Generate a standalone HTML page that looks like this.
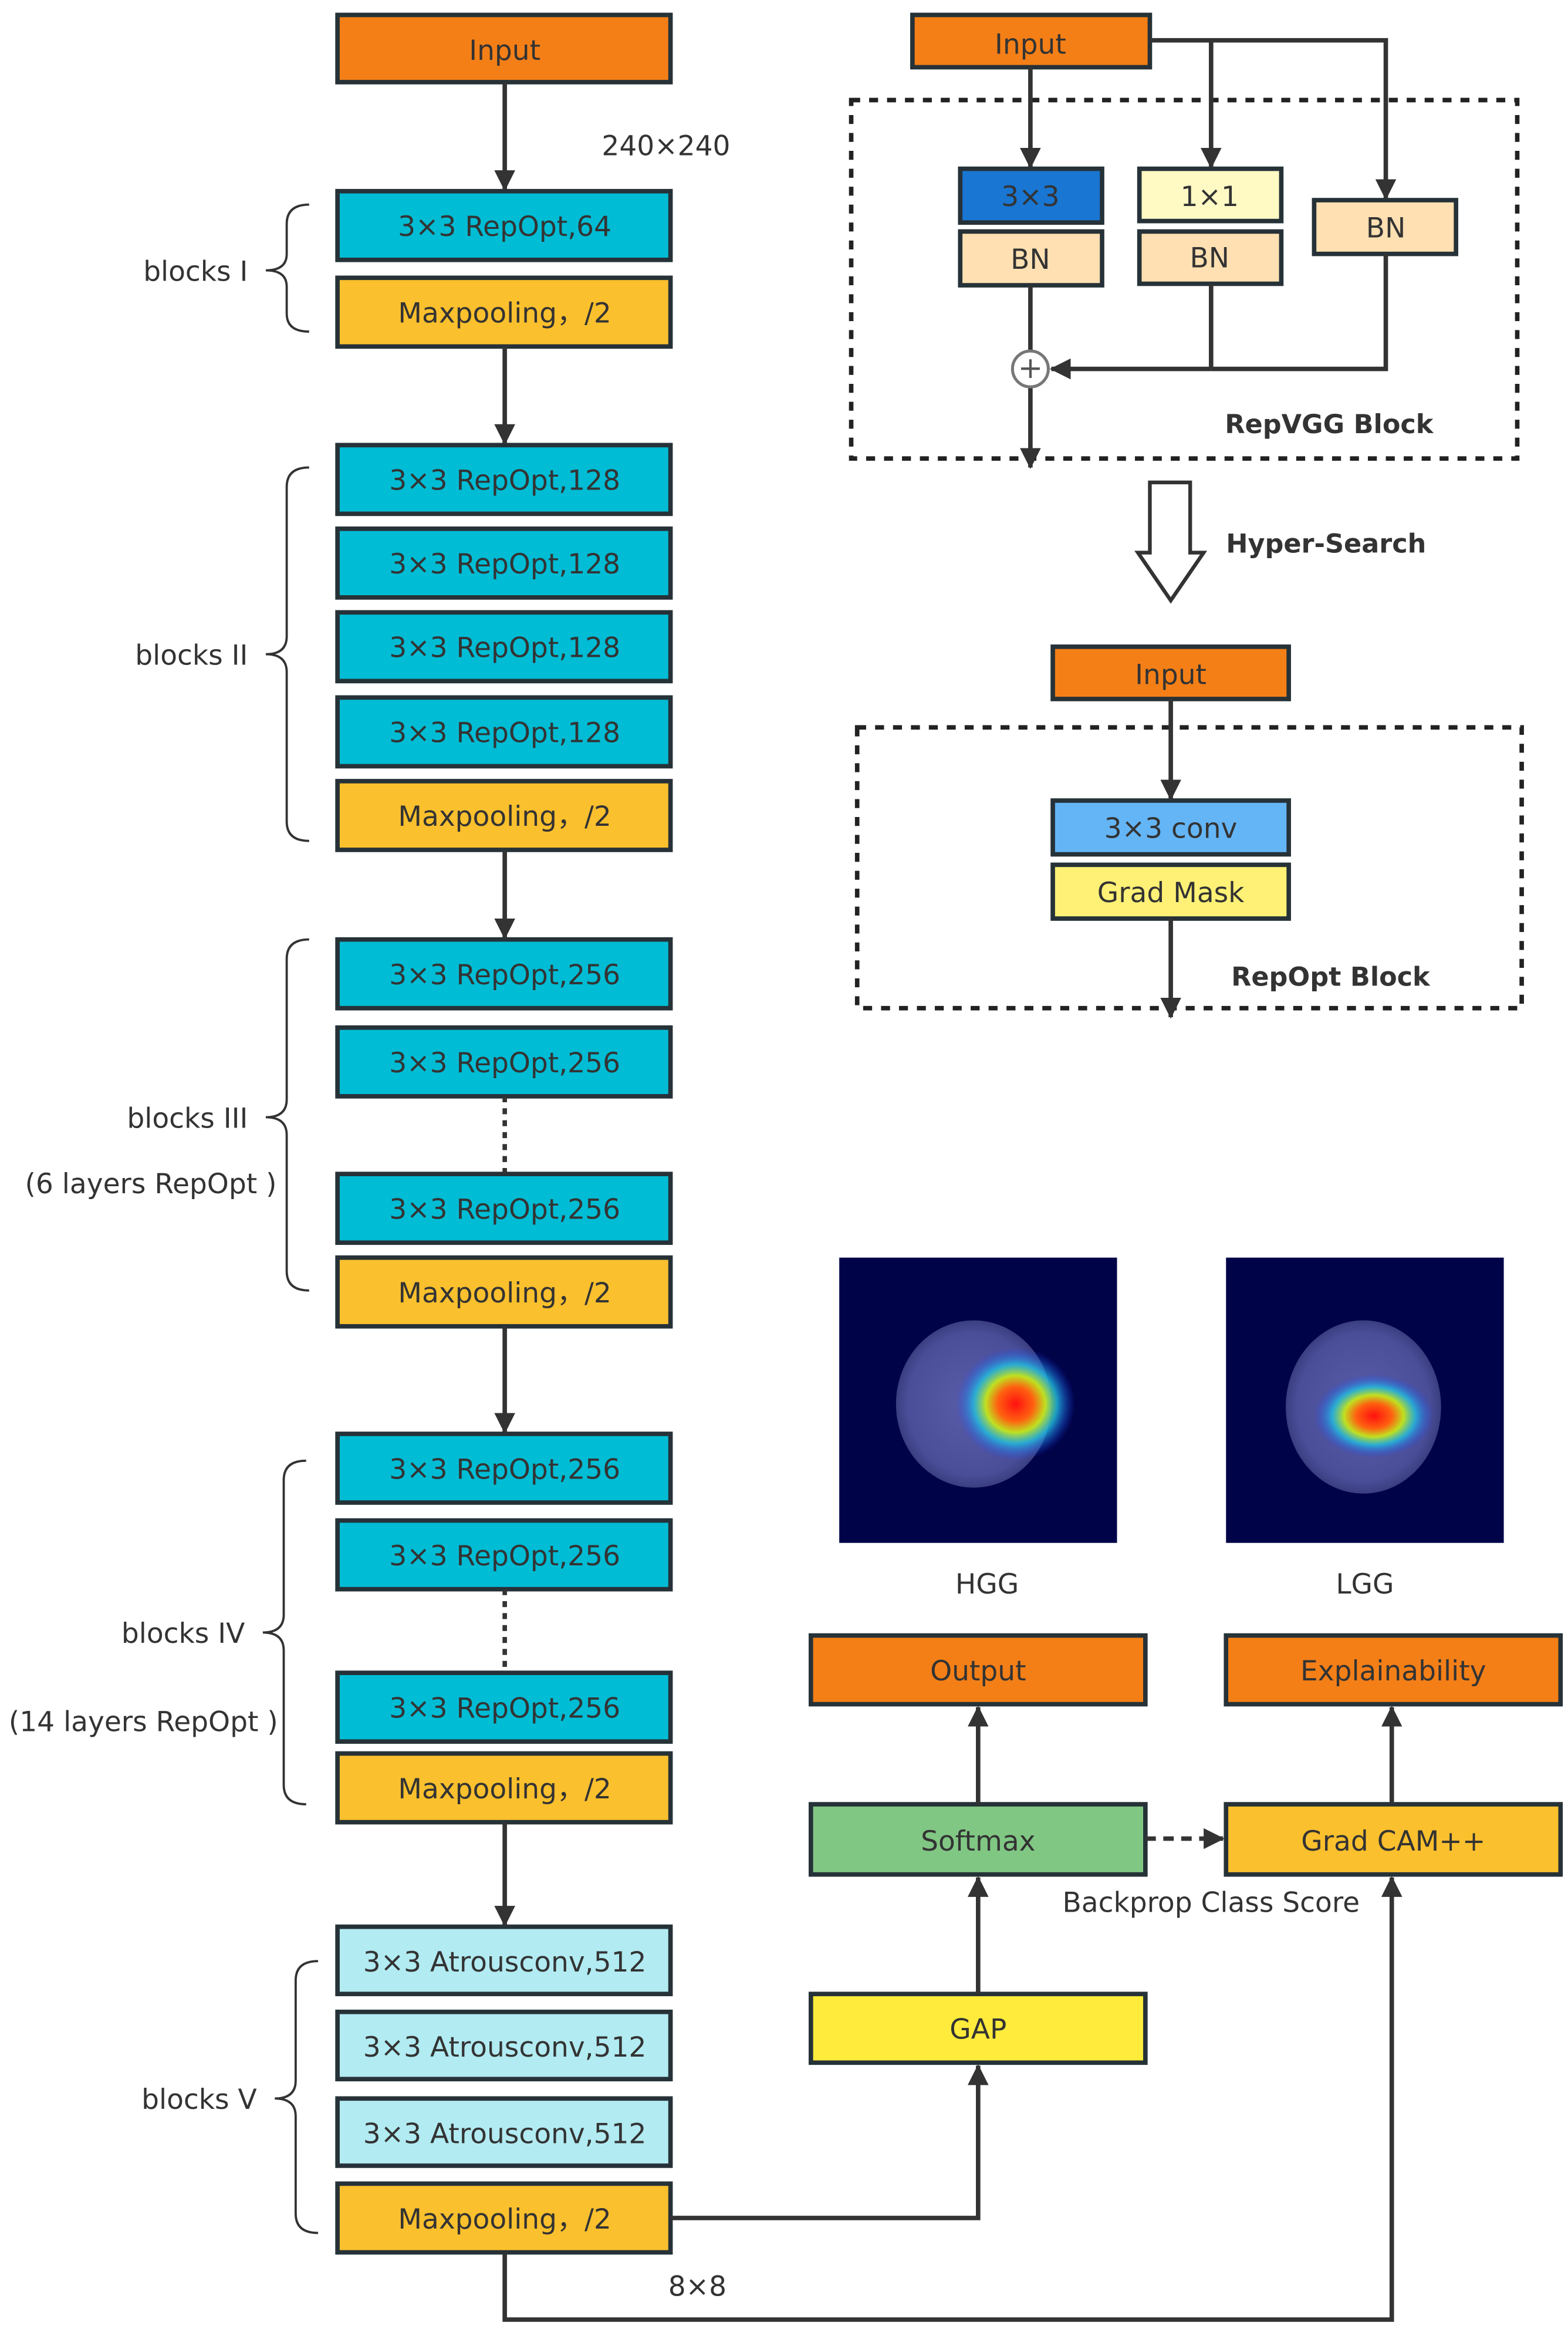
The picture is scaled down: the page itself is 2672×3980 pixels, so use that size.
<!DOCTYPE html>
<html><head><meta charset="utf-8"><style>
html,body{margin:0;padding:0;background:#fff;}
svg{display:block;}
text{font-family:"DejaVu Sans","Liberation Sans",sans-serif;fill:#333;}
</style></head><body>
<svg width="2672" height="3980" viewBox="0 0 1050 1564" preserveAspectRatio="none" xmlns="http://www.w3.org/2000/svg">
<defs>
<marker id="ah" markerWidth="14" markerHeight="14" refX="13" refY="7" orient="auto" markerUnits="userSpaceOnUse"><path d="M0,0 L14,7 L0,14 z" fill="#333"/></marker>
<radialGradient id="hm1" cx="0.5" cy="0.5" r="0.5"><stop offset="0" stop-color="#ff1010"/><stop offset="0.3" stop-color="#ff6010"/><stop offset="0.5" stop-color="#c0e020"/><stop offset="0.7" stop-color="#20c0e0" stop-opacity="0.8"/><stop offset="1" stop-color="#2040ff" stop-opacity="0"/></radialGradient>
<radialGradient id="brain" cx="0.5" cy="0.5" r="0.5"><stop offset="0" stop-color="#5a5ea8"/><stop offset="0.85" stop-color="#4a4e98"/><stop offset="1" stop-color="#3a3e80"/></radialGradient>
</defs>
<g stroke="#263238" stroke-width="3">
<rect x="226" y="10" width="223" height="45" fill="#f47f17"/>
<rect x="226" y="128" width="223" height="46" fill="#00bcd4"/>
<rect x="226" y="186" width="223" height="46" fill="#fbc02d"/>
<rect x="226" y="298" width="223" height="46" fill="#00bcd4"/>
<rect x="226" y="354" width="223" height="46" fill="#00bcd4"/>
<rect x="226" y="410" width="223" height="46" fill="#00bcd4"/>
<rect x="226" y="467" width="223" height="46" fill="#00bcd4"/>
<rect x="226" y="523" width="223" height="46" fill="#fbc02d"/>
<rect x="226" y="629" width="223" height="46" fill="#00bcd4"/>
<rect x="226" y="688" width="223" height="46" fill="#00bcd4"/>
<rect x="226" y="786" width="223" height="46" fill="#00bcd4"/>
<rect x="226" y="842" width="223" height="46" fill="#fbc02d"/>
<rect x="226" y="960" width="223" height="46" fill="#00bcd4"/>
<rect x="226" y="1018" width="223" height="46" fill="#00bcd4"/>
<rect x="226" y="1120" width="223" height="46" fill="#00bcd4"/>
<rect x="226" y="1174" width="223" height="46" fill="#fbc02d"/>
<rect x="226" y="1290" width="223" height="45" fill="#b2ebf2"/>
<rect x="226" y="1347" width="223" height="45" fill="#b2ebf2"/>
<rect x="226" y="1405" width="223" height="45" fill="#b2ebf2"/>
<rect x="226" y="1462" width="223" height="46" fill="#fbc02d"/>
<rect x="543" y="1095" width="224" height="46" fill="#f47f17"/>
<rect x="543" y="1208" width="224" height="47" fill="#81c784"/>
<rect x="543" y="1335" width="224" height="46" fill="#ffeb3b"/>
<rect x="821" y="1095" width="224" height="46" fill="#f47f17"/>
<rect x="821" y="1208" width="224" height="47" fill="#fbc02d"/>
<rect x="611" y="10" width="159" height="35" fill="#f47f17"/>
<rect x="643" y="113" width="95" height="36" fill="#1976d2"/>
<rect x="643" y="155" width="95" height="36" fill="#ffe0b2"/>
<rect x="763" y="113" width="95" height="35" fill="#fff9c4"/>
<rect x="763" y="155" width="95" height="35" fill="#ffe0b2"/>
<rect x="880" y="134" width="95" height="36" fill="#ffe0b2"/>
<rect x="705" y="433" width="158" height="35" fill="#f47f17"/>
<rect x="705" y="536" width="158" height="36" fill="#64b5f6"/>
<rect x="705" y="579" width="158" height="36" fill="#fff176"/>
</g>
<rect x="570" y="67" width="446" height="240" fill="none" stroke="#222" stroke-width="3" stroke-dasharray="6,6"/>
<rect x="574" y="487" width="445" height="188" fill="none" stroke="#222" stroke-width="3" stroke-dasharray="6,6"/>
<g stroke="#333" stroke-width="3" fill="none">
<line x1="338" y1="55" x2="338" y2="127" marker-end="url(#ah)"/>
<line x1="338" y1="232" x2="338" y2="297" marker-end="url(#ah)"/>
<line x1="338" y1="569" x2="338" y2="628" marker-end="url(#ah)"/>
<line x1="338" y1="888" x2="338" y2="959" marker-end="url(#ah)"/>
<line x1="338" y1="1220" x2="338" y2="1289" marker-end="url(#ah)"/>
<line x1="338" y1="734" x2="338" y2="786" stroke-dasharray="4,4"/>
<line x1="338" y1="1064" x2="338" y2="1120" stroke-dasharray="4,4"/>
<polyline points="449,1485 655,1485 655,1383" marker-end="url(#ah)"/>
<line x1="655" y1="1335" x2="655" y2="1257" marker-end="url(#ah)"/>
<line x1="655" y1="1208" x2="655" y2="1143" marker-end="url(#ah)"/>
<polyline points="338,1508 338,1553 932,1553 932,1257" marker-end="url(#ah)"/>
<line x1="932" y1="1208" x2="932" y2="1143" marker-end="url(#ah)"/>
<line x1="767" y1="1231" x2="819" y2="1231" stroke-dasharray="7,5" marker-end="url(#ah)"/>
<line x1="690" y1="45" x2="690" y2="112" marker-end="url(#ah)"/>
<polyline points="770,27 928,27 928,133" marker-end="url(#ah)"/>
<line x1="811" y1="27" x2="811" y2="112" marker-end="url(#ah)"/>
<line x1="690" y1="191" x2="690" y2="235"/>
<polyline points="928,170 928,247 811,247"/>
<line x1="811" y1="190" x2="811" y2="247"/>
<line x1="811" y1="247" x2="704" y2="247" marker-end="url(#ah)"/>
<line x1="690" y1="259" x2="690" y2="313" marker-end="url(#ah)"/>
<line x1="784" y1="468" x2="784" y2="535" marker-end="url(#ah)"/>
<line x1="784" y1="615" x2="784" y2="681" marker-end="url(#ah)"/>
<path d="M207,137 Q192,137 192,150 L192,170 Q192,181 178,181 Q192,181 192,192 L192,210 Q192,222 207,222" stroke-width="1.5"/>
<path d="M207,313 Q192,313 192,326 L192,426 Q192,438 178,438 Q192,438 192,450 L192,550 Q192,563 207,563" stroke-width="1.5"/>
<path d="M207,629 Q192,629 192,642 L192,736 Q192,748 178,748 Q192,748 192,760 L192,851 Q192,864 207,864" stroke-width="1.5"/>
<path d="M205,978 Q190,978 190,991 L190,1081 Q190,1093 176,1093 Q190,1093 190,1105 L190,1195 Q190,1208 205,1208" stroke-width="1.5"/>
<path d="M213,1313 Q198,1313 198,1326 L198,1393 Q198,1405 184,1405 Q198,1405 198,1417 L198,1482 Q198,1495 213,1495" stroke-width="1.5"/>
</g>
<circle cx="690" cy="247" r="12" fill="#fff" stroke="#777" stroke-width="2"/>
<text x="690" y="253" font-size="20" text-anchor="middle" style="fill:#555">+</text>
<path d="M770,323 L797,323 L797,370 L806,370 L784,402 L762,370 L770,370 Z" fill="#fff" stroke="#333" stroke-width="2.5"/>
<rect x="562" y="842" width="186" height="191" fill="#000348"/>
<ellipse cx="652" cy="940" rx="52" ry="56" fill="url(#brain)"/>
<ellipse cx="680" cy="940" rx="40" ry="38" fill="url(#hm1)"/>
<rect x="821" y="842" width="186" height="191" fill="#000348"/>
<ellipse cx="913" cy="942" rx="52" ry="58" fill="url(#brain)"/>
<ellipse cx="920" cy="948" rx="40" ry="28" fill="url(#hm1)"/>
<g font-size="18.5" text-anchor="middle">
<text x="338" y="40">Input</text>
<text x="338" y="158">3×3 RepOpt,64</text>
<text x="338" y="216">Maxpooling，/2</text>
<text x="338" y="328">3×3 RepOpt,128</text>
<text x="338" y="384">3×3 RepOpt,128</text>
<text x="338" y="440">3×3 RepOpt,128</text>
<text x="338" y="497">3×3 RepOpt,128</text>
<text x="338" y="553">Maxpooling，/2</text>
<text x="338" y="659">3×3 RepOpt,256</text>
<text x="338" y="718">3×3 RepOpt,256</text>
<text x="338" y="816">3×3 RepOpt,256</text>
<text x="338" y="872">Maxpooling，/2</text>
<text x="338" y="990">3×3 RepOpt,256</text>
<text x="338" y="1048">3×3 RepOpt,256</text>
<text x="338" y="1150">3×3 RepOpt,256</text>
<text x="338" y="1204">Maxpooling，/2</text>
<text x="338" y="1320">3×3 Atrousconv,512</text>
<text x="338" y="1377">3×3 Atrousconv,512</text>
<text x="338" y="1435">3×3 Atrousconv,512</text>
<text x="338" y="1492">Maxpooling，/2</text>
<text x="655" y="1125">Output</text>
<text x="655" y="1239">Softmax</text>
<text x="655" y="1365">GAP</text>
<text x="933" y="1125">Explainability</text>
<text x="933" y="1239">Grad CAM++</text>
<text x="690" y="36">Input</text>
<text x="690" y="138">3×3</text>
<text x="690" y="180">BN</text>
<text x="810" y="138">1×1</text>
<text x="810" y="179">BN</text>
<text x="928" y="159">BN</text>
<text x="784" y="458">Input</text>
<text x="784" y="561">3×3 conv</text>
<text x="784" y="604">Grad Mask</text>
<text x="661" y="1067">HGG</text>
<text x="914" y="1067">LGG</text>
<text x="811" y="1280">Backprop Class Score</text>
<text x="446" y="104">240×240</text>
<text x="467" y="1537">8×8</text>
<text x="101" y="799">(6 layers RepOpt )</text>
<text x="96" y="1159">(14 layers RepOpt )</text>
</g>
<g font-size="18.5" text-anchor="end">
<text x="166" y="188">blocks I</text>
<text x="166" y="445">blocks II</text>
<text x="166" y="755">blocks III</text>
<text x="164" y="1100">blocks IV</text>
<text x="172" y="1412">blocks V</text>
</g>
<g font-size="17.5" font-weight="bold" text-anchor="middle">
<text x="890" y="290">RepVGG Block</text>
<text x="888" y="370">Hyper-Search</text>
<text x="891" y="660">RepOpt Block</text>
</g>
</svg>
</body></html>
